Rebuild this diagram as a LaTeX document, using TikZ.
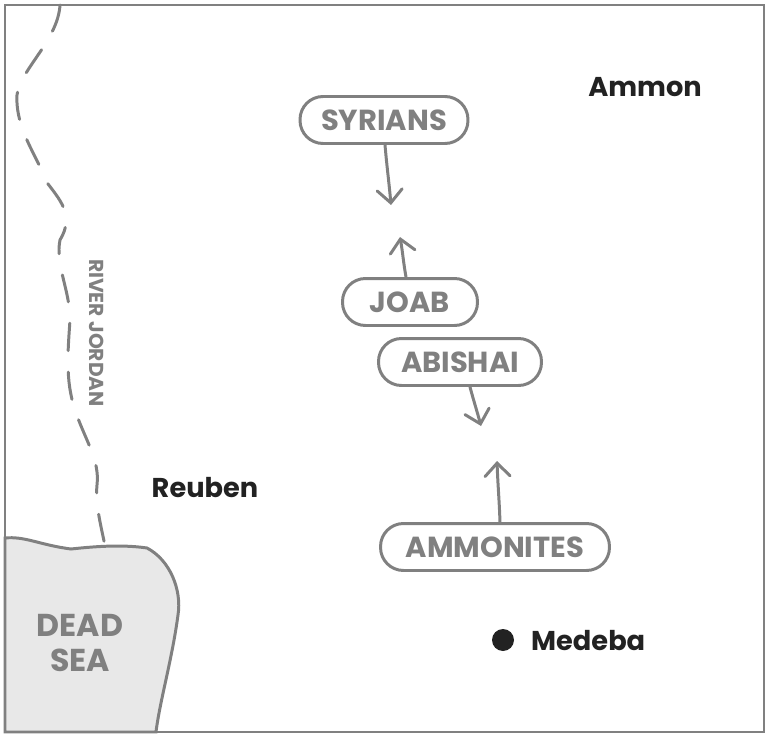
\documentclass[tikz,border=0pt]{standalone}
\usepackage{fontspec}
\setmainfont{Poppins}
\usetikzlibrary{arrows.meta}
\definecolor{mapgray}{HTML}{808080}
\definecolor{seagray}{HTML}{E8E8E8}
\definecolor{inkdark}{HTML}{222222}

\begin{document}
\begin{tikzpicture}[x=0.02cm, y=-0.02cm,
	force/.style={draw=mapgray, line width=1.7pt, rounded corners=0.46cm, minimum height=0.94cm, text=mapgray, font=\bfseries\fontsize{16.5}{18}\selectfont},
	move/.style={draw=mapgray, line width=1.7pt, line cap=round, -{Straight Barb[length=2.6mm,width=5mm,line cap=round]}},
	place/.style={text=inkdark, font=\bfseries\fontsize{15.5}{18}\selectfont}]
	\useasboundingbox (0,0) rectangle (768,737);
	% dead sea
	\draw[color=mapgray, line width=1.7pt, fill=seagray] (5,538) .. controls (25,536) and (40,545) .. (71,549) .. controls (90,547) and (120,544) .. (147,548) .. controls (170,560) and (182,590) .. (178,615) .. controls (172,660) and (160,700) .. (156,732) -- (5,732) -- cycle;
	% river
	\draw[color=mapgray, line width=1.7pt, line cap=round, dash pattern=on 5.5mm off 4.3mm] (60,5) .. controls (58,40) and (20,70) .. (17,95) .. controls (15,130) and (40,160) .. (45,180) .. controls (60,200) and (75,215) .. (60,240) .. controls (55,265) and (70,290) .. (70,320) .. controls (68,350) and (65,380) .. (75,410) .. controls (85,440) and (100,460) .. (97,485) .. controls (95,505) and (102,530) .. (105,546);
	\node[rotate=-90, text=mapgray, font=\bfseries\fontsize{11.5}{13}\selectfont] (jordan) at (97,333) {RIVER JORDAN};
	% frame
	\draw[color=mapgray, line width=1.7pt] (5,5) rectangle (764,732);
	\node[text=mapgray, font=\bfseries\fontsize{18}{20}\selectfont, align=center] (deadsea) at (80,643) {DEAD\\[0pt]SEA};
	% places
	\node[place] (ammon) at (645,87) {Ammon};
	\node[place] (reuben) at (205,488) {Reuben};
	\node[circle, fill=inkdark, minimum size=0.44cm, inner sep=0pt] (medeba) at (503,640) {};
	\node[place, anchor=west] (medebalbl) at (525,641) {Medeba};
	% forces
	\node[force, minimum width=3.36cm] (syrians) at (384,120) {SYRIANS};
	\node[force, minimum width=2.70cm] (joab) at (410,302) {JOAB};
	\node[force, minimum width=3.26cm] (abishai) at (460,362) {ABISHAI};
	\node[force, minimum width=4.58cm] (ammonites) at (495,547) {AMMONITES};
	\coordinate (syrtip) at (391,205);
	\coordinate (joabtip) at (400,237);
	\coordinate (abitip) at (481,426);
	\coordinate (ammtip) at (497,461);
	\draw[move] (syrians.south) ++(1,0) to[out=-85, in=95] (syrtip);
	\draw[move] (joab.north) ++(-4,0) to[out=100, in=-80] (joabtip);
	\draw[move] (abishai.south) ++(10,0) to[out=-75, in=105] (abitip);
	\draw[move] (ammonites.north) ++(5,0) to[out=92, in=-88] (ammtip);
\end{tikzpicture}
\end{document}
